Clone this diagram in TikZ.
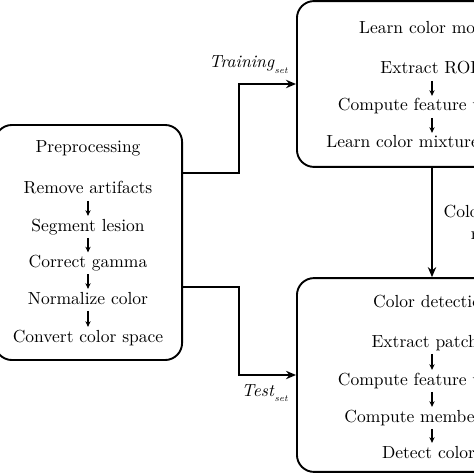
\documentclass[tikz,border=0pt]{standalone}
\usetikzlibrary{arrows.meta}
\tikzset{
	stagebox/.style={draw, line width=0.4mm, rounded corners=0.36cm, inner sep=0pt},
	stepline/.style={inner sep=1.5pt, text height=7.4pt, text depth=2.4pt, anchor=base, font=\fontsize{10.5}{13}\selectfont},
	steparrow/.style={-{Stealth[length=3.4pt,width=3.2pt]}, line width=0.25mm},
	flowarrow/.style={-{Stealth[length=6pt,width=5pt]}, line width=0.35mm},
	flowlabel/.style={inner sep=0pt, font=\fontsize{10.5}{13}\selectfont},
}
\def\subset#1#2{\textit{#1}\raisebox{-3.4pt}{\fontsize{5.5}{6}\selectfont\itshape #2}}

\begin{document}
\begin{tikzpicture}[x=0.0211cm, y=-0.0211cm]
		%%%%% START %%%%%
		\useasboundingbox (0,0) rectangle (474,474);
		\clip (0,0) rectangle (474,474);
		
		\node[stagebox, minimum width=3.95cm, minimum height=4.96cm] (prep) at (88.5,242.5) {};
		\node[stagebox, minimum width=5.70cm, minimum height=3.50cm] (learn) at (432,84) {};
		\node[stagebox, minimum width=5.70cm, minimum height=4.09cm] (detect) at (432,375) {};
		
		\node[stepline] (prep0) at (88,153) {Preprocessing};
		\node[stepline] (prep1) at (88,194) {Remove artifacts};
		\node[stepline] (prep2) at (88,231) {Segment lesion};
		\node[stepline] (prep3) at (88,267.5) {Correct gamma};
		\node[stepline] (prep4) at (88,304) {Normalize color};
		\node[stepline] (prep5) at (88,342) {Convert color space};
		\draw[steparrow] (prep1) -- (prep2);
		\draw[steparrow] (prep2) -- (prep3);
		\draw[steparrow] (prep3) -- (prep4);
		\draw[steparrow] (prep4) -- (prep5);
		
		\node[stepline] (learn0) at (432,34) {Learn color models};
		\node[stepline] (learn1) at (432,74) {Extract ROIs};
		\node[stepline] (learn2) at (432,111) {Compute feature vectors};
		\node[stepline] (learn3) at (432,148) {Learn color mixture models};
		\draw[steparrow] (learn1) -- (learn2);
		\draw[steparrow] (learn2) -- (learn3);
		
		\node[stepline] (detect0) at (432,307) {Color detection};
		\node[stepline] (detect1) at (432,347) {Extract patches};
		\node[stepline] (detect2) at (432,385) {Compute feature vectors};
		\node[stepline] (detect3) at (432,422) {Compute memberships};
		\node[stepline] (detect4) at (432,458) {Detect colors};
		\draw[steparrow] (detect1) -- (detect2);
		\draw[steparrow] (detect2) -- (detect3);
		\draw[steparrow] (detect3) -- (detect4);
		
		\coordinate (trainturn) at (239,84);
		\coordinate (testturn) at (239,375);
		\draw[flowarrow] ([yshift=1.47cm]prep.east) -| (trainturn) -- (learn.west);
		\draw[flowarrow] ([yshift=-0.94cm]prep.east) -| (testturn) -- (detect.west);
		\node[flowlabel, anchor=base east] (trainlbl) at (288,68) {\subset{Training}{set}};
		\node[flowlabel, anchor=base east] (testlbl) at (288,396) {\subset{Test}{set}};
		
		\draw[flowarrow] (learn.south) -- (detect.north)
			node[flowlabel, midway, anchor=west, xshift=0.23cm, align=center] (mixlbl) {Color mixture\\models};
		
		%%%%% END %%%%%
	\end{tikzpicture}
\end{document}
